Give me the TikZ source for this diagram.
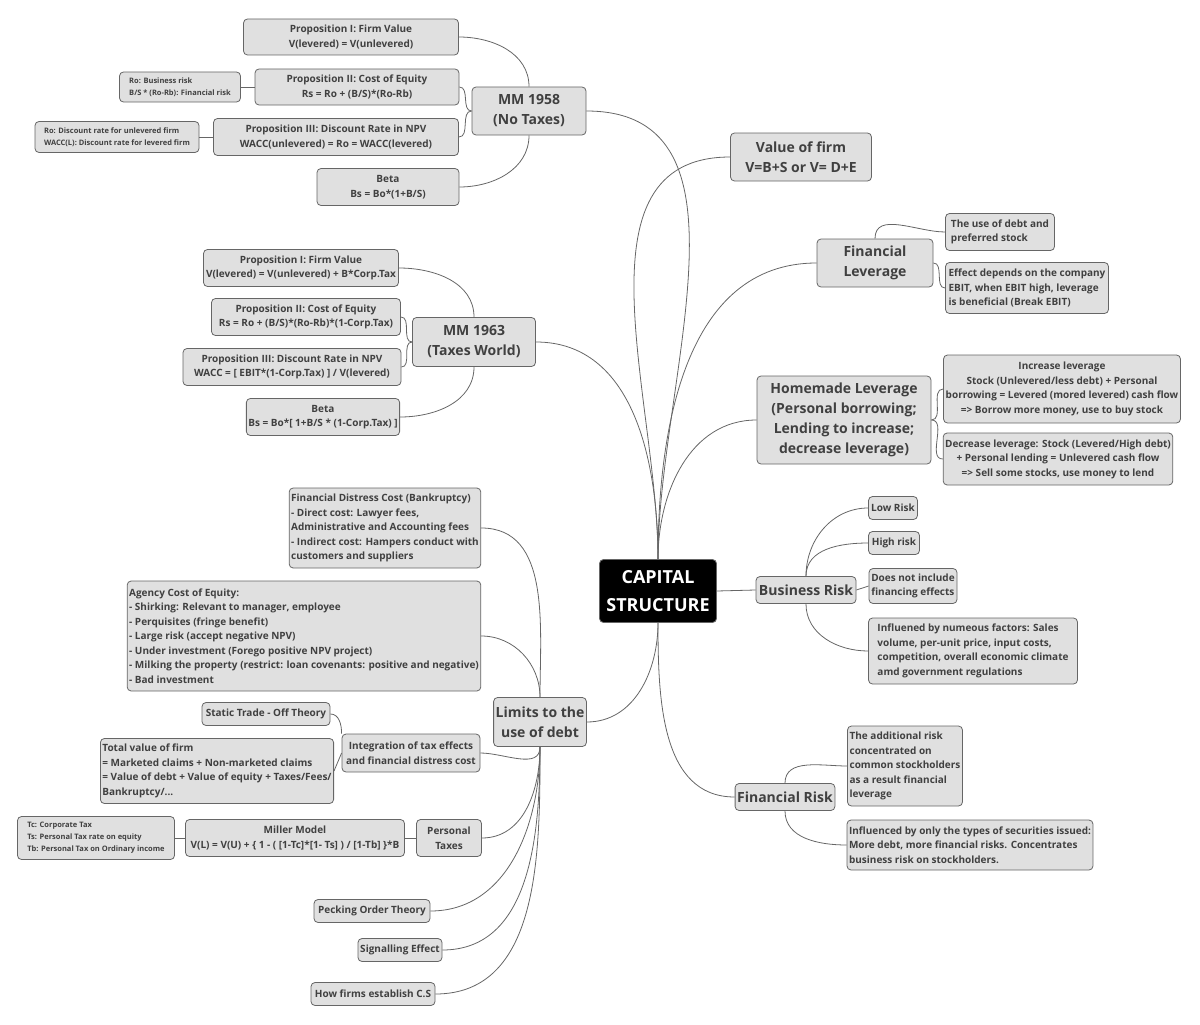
\documentclass[tikz,border=0pt]{standalone}
\usepackage{fontspec}
\setmainfont{Open Sans}
\usetikzlibrary{positioning}

\tikzset{
  box/.style = {rectangle, draw=black!60, fill=black!12, rounded corners=4pt,
                align=center, inner sep=2pt, line width=0.8pt,
                font=\bfseries\fontsize{10}{14.5}\selectfont, text=black!75},
  lbox/.style = {box, align=left},
  note/.style = {box, align=left, font=\bfseries\fontsize{7.5}{12}\selectfont},
  big/.style = {box, font=\bfseries\fontsize{14}{20}\selectfont},
  root/.style = {box, fill=black, draw=black!60, text=white,
                 font=\bfseries\fontsize{18}{28}\selectfont},
  link/.style = {draw=black!60, line width=0.8pt}
}

\begin{document}
\begin{tikzpicture}[x=1pt, y=-1pt]
\useasboundingbox (0,0) rectangle (1200,1025);

% root
\node[root, minimum width=117, minimum height=63] (cs) at (658,591) {CAPITAL\\STRUCTURE};

% right side
\node[big, minimum width=141, minimum height=48] (vf) at (801,157) {Value of firm\\V=B+S or V= D+E};
\node[big, minimum width=116, minimum height=48] (fl) at (875,263) {Financial\\Leverage};
\node[lbox, minimum width=109, minimum height=37] (fl1) at (1000,232) {The use of debt and\\preferred stock};
\node[lbox, minimum width=163, minimum height=51] (fl2) at (1027,288) {Effect depends on the company\\EBIT, when EBIT high, leverage\\is beneficial (Break EBIT)};
\node[big, minimum width=174, minimum height=88] (hl) at (844,420) {Homemade Leverage\\(Personal borrowing;\\Lending to increase;\\decrease leverage)};
\node[box, minimum width=237, minimum height=68] (hl1) at (1062,389) {Increase leverage\\Stock (Unlevered/less debt) + Personal\\borrowing = Levered (mored levered) cash flow\\=> Borrow more money, use to buy stock};
\node[box, minimum width=228, minimum height=52] (hl2) at (1058,459) {Decrease leverage: Stock (Levered/High debt)\\+ Personal lending = Unlevered cash flow\\=> Sell some stocks, use money to lend};
\node[big, minimum width=100, minimum height=27] (br) at (806,590) {Business Risk};
\node[lbox, minimum width=49, minimum height=23] (br1) at (893,508) {Low Risk};
\node[lbox, minimum width=51, minimum height=23] (br2) at (894,543) {High risk};
\node[lbox, minimum width=88, minimum height=35] (br3) at (913,586) {Does not include\\financing effects};
\node[lbox, minimum width=209, minimum height=66] (br4) at (973,651) {Influened by numeous factors: Sales\\volume, per-unit price, input costs,\\competition, overall economic climate\\amd government regulations};
\node[big, minimum width=99, minimum height=27] (fr) at (785,797) {Financial Risk};
\node[lbox, minimum width=115, minimum height=80] (fr1) at (905,766) {The additional risk\\concentrated on\\common stockholders\\as a result financial\\leverage};
\node[lbox, minimum width=245, minimum height=50] (fr2) at (970,845) {Influenced by only the types of securities issued:\\More debt, more financial risks. Concentrates\\business risk on stockholders.};

% MM 1958
\node[big, minimum width=114, minimum height=48] (mm58) at (529,111) {MM 1958\\(No Taxes)};
\node[box, minimum width=215, minimum height=36] (p1) at (351,37) {Proposition I: Firm Value\\V(levered) = V(unlevered)};
\node[box, minimum width=204, minimum height=36] (p2) at (357,87) {Proposition II: Cost of Equity\\Rs = Ro + (B/S)*(Ro-Rb)};
\node[note, minimum width=121, minimum height=30] (n2) at (180,87) {Ro: Business risk\\B/S * (Ro-Rb): Financial risk};
\node[box, minimum width=245, minimum height=37] (p3) at (336,137) {Proposition III: Discount Rate in NPV\\WACC(unlevered) = Ro = WACC(levered)};
\node[note, minimum width=164, minimum height=31] (n3) at (117,137) {Ro: Discount rate for unlevered firm\\WACC(L): Discount rate for levered firm};
\node[box, minimum width=142, minimum height=37] (p4) at (388,187) {Beta\\Bs = Bo*(1+B/S)};

% MM 1963
\node[big, minimum width=123, minimum height=49] (mm63) at (474,342) {MM 1963\\(Taxes World)};
\node[box, minimum width=195, minimum height=37] (q1) at (301,268) {Proposition I: Firm Value\\V(levered) = V(unlevered) + B*Corp.Tax};
\node[box, minimum width=189, minimum height=37] (q2) at (306,317) {Proposition II: Cost of Equity\\Rs = Ro + (B/S)*(Ro-Rb)*(1-Corp.Tax)};
\node[box, minimum width=218, minimum height=37] (q3) at (292,367) {Proposition III: Discount Rate in NPV\\WACC = [ EBIT*(1-Corp.Tax) ] / V(levered)};
\node[box, minimum width=152, minimum height=37] (q4) at (323,417) {Beta\\Bs = Bo*[ 1+B/S * (1-Corp.Tax) ]};

% Limits to the use of debt
\node[big, minimum width=92, minimum height=49] (lim) at (540,722) {Limits to the\\use of debt};
\node[lbox, minimum width=190, minimum height=80] (l1) at (385,528) {Financial Distress Cost (Bankruptcy)\\- Direct cost: Lawyer fees,\\Administrative and Accounting fees\\- Indirect cost: Hampers conduct with\\customers and suppliers};
\node[lbox, minimum width=353, minimum height=110] (l2) at (304,636) {Agency Cost of Equity:\\- Shirking: Relevant to manager, employee\\- Perquisites (fringe benefit)\\- Large risk (accept negative NPV)\\- Under investment (Forego positive NPV project)\\- Milking the property (restrict: loan covenants: positive and negative)\\- Bad investment};
\node[box, minimum width=138, minimum height=38] (l3) at (411,753) {Integration of tax effects\\and financial distress cost};
\node[box, minimum width=128, minimum height=23] (l3a) at (266,714) {Static Trade - Off Theory};
\node[lbox, minimum width=228, minimum height=65] (l3b) at (217,771) {Total value of firm\\= Marketed claims + Non-marketed claims\\= Value of debt + Value of equity + Taxes/Fees/\\Bankruptcy/...};
\node[box, minimum width=65, minimum height=37] (l4) at (449,838) {Personal\\Taxes};
\node[box, minimum width=219, minimum height=37] (mil) at (295,838) {Miller Model\\V(L) = V(U) + \{ 1 - ( [1-Tc]*[1- Ts] ) / [1-Tb] \}*B};
\node[note, minimum width=157, minimum height=43] (n4) at (96,838) {Tc: Corporate Tax\\Ts: Personal Tax rate on equity\\Tb: Personal Tax on Ordinary income};
\node[box, minimum width=116, minimum height=23] (l5) at (372,911) {Pecking Order Theory};
\node[box, minimum width=84, minimum height=23] (l6) at (400,950) {Signalling Effect};
\node[box, minimum width=124, minimum height=23] (l7) at (373,994) {How firms establish C.S};

% main branches
\draw[link] (cs.north) to[out=90,in=180] (vf.west);
\draw[link] (cs.north) to[out=90,in=180] (fl.west);
\draw[link] (cs.north) to[out=90,in=180] (hl.west);
\draw[link] (cs.east) -- (br.west);
\draw[link] (cs.south) to[out=-90,in=180] (fr.west);
\draw[link] (cs.north) to[out=90,in=0] (mm58.east);
\draw[link] (cs.north) to[out=90,in=0] (mm63.east);
\draw[link] (cs.south) to[out=-90,in=0] (lim.east);

% right sub branches
\draw[link] (fl.north) to[out=90,in=180] (fl1.west);
\draw[link] (fl.east) to[out=0,in=180] (fl2.west);
\draw[link] (hl.east) to[out=0,in=180] (hl1.west);
\draw[link] (hl.east) to[out=0,in=180] (hl2.west);
\draw[link] (br.north) to[out=90,in=180] (br1.west);
\draw[link] (br.north) to[out=90,in=180] (br2.west);
\draw[link] (br.east) -- (br3.west);
\draw[link] (br.south) to[out=-90,in=180] (br4.west);
\draw[link] (fr.north) to[out=90,in=180] (fr1.west);
\draw[link] (fr.south) to[out=-90,in=180] (fr2.west);

% MM 1958
\draw[link] (mm58.north) to[out=90,in=0] (p1.east);
\draw[link] (mm58.west) to[out=180,in=0] (p2.east);
\draw[link] (mm58.west) to[out=180,in=0] (p3.east);
\draw[link] (mm58.south) to[out=-90,in=0] (p4.east);
\draw[link] (p2.west) -- (n2.east);
\draw[link] (p3.west) -- (n3.east);

% MM 1963
\draw[link] (mm63.north) to[out=90,in=0] (q1.east);
\draw[link] (mm63.west) to[out=180,in=0] (q2.east);
\draw[link] (mm63.west) to[out=180,in=0] (q3.east);
\draw[link] (mm63.south) to[out=-90,in=0] (q4.east);

% limits
\draw[link] (lim.north) to[out=90,in=0] (l1.east);
\draw[link] (lim.north) to[out=90,in=0] (l2.east);
\draw[link] (lim.south) to[out=-90,in=0] (l3.east);
\draw[link] (lim.south) to[out=-90,in=0] (l4.east);
\draw[link] (lim.south) to[out=-90,in=0] (l5.east);
\draw[link] (lim.south) to[out=-90,in=0] (l6.east);
\draw[link] (lim.south) to[out=-90,in=0] (l7.east);
\draw[link] (l3.north west) to[out=90,in=0] (l3a.east);
\draw[link] (l3.west) -- (l3b.east);
\draw[link] (l4.west) -- (mil.east);
\draw[link] (mil.west) -- (n4.east);
\end{tikzpicture}
\end{document}
